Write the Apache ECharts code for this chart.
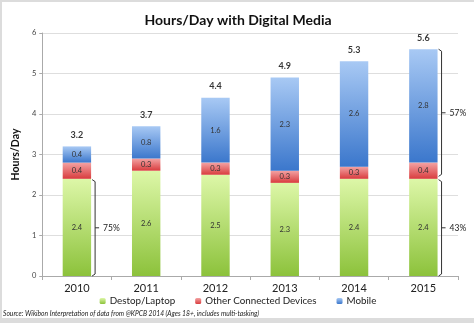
<!DOCTYPE html>
<html><head><meta charset="utf-8">
<script src="https://cdn.jsdelivr.net/npm/echarts@6/dist/echarts.min.js"></script>
<style>
html,body{margin:0;padding:0;background:#dcdcdc;width:474px;height:323px;overflow:hidden;}
#c{position:absolute;left:2px;top:2px;width:472px;height:316px;background:#fff;}
</style></head><body>
<div id="c"></div>
<script>
var years = ['2010','2011','2012','2013','2014','2015'];
var desktop = [2.4, 2.6, 2.5, 2.3, 2.4, 2.4];
var other = [0.4, 0.3, 0.3, 0.3, 0.3, 0.4];
var mobile = [0.4, 0.8, 1.6, 2.3, 2.6, 2.8];
var totals = [3.2, 3.7, 4.4, 4.9, 5.3, 5.6];
var yTicks = [0, 1, 2, 3, 4, 5, 6];
var seriesNames = ['Destop/Laptop', 'Other Connected Devices', 'Mobile'];
// bracket annotations: [category index, low, high, label]
var brackets = [[0, 0, 2.38, '75%'], [5, 2.46, 5.6, '57%'], [5, 0, 2.38, '43%']];

var chart = echarts.init(document.getElementById('c'));
function grad(top, bottom) {
  return new echarts.graphic.LinearGradient(0, 0, 0, 1, [{offset: 0, color: top}, {offset: 1, color: bottom}]);
}
var font = 'Lato, "Open Sans", sans-serif';
var barW = '41%';
var inLabel = {show: true, position: 'inside', fontSize: 7.5, color: '#333', fontFamily: font};
chart.setOption({
  animation: false,
  textStyle: {fontFamily: font},
  title: {text: 'Hours/Day with Digital Media', left: 'center', top: 6,
    textStyle: {fontSize: 14, fontWeight: 'bold', color: '#111', fontFamily: font}},
  grid: {left: 33, right: 16, top: 31, bottom: 42},
  legend: {data: seriesNames, left: 'center', top: 294, padding: 0, itemWidth: 6, itemHeight: 6, itemGap: 20,
    textStyle: {fontSize: 9.8, color: '#222', fontFamily: font, padding: [0, 0, 0, -1]}},
  xAxis: {type: 'category', data: years,
    axisLine: {lineStyle: {color: '#aaa'}},
    axisTick: {show: true, length: 4, lineStyle: {color: '#aaa'}},
    axisLabel: {fontSize: 11, color: '#222', margin: 7}},
  yAxis: {type: 'value', min: 0, max: 6, interval: 1,
    name: 'Hours/Day', nameLocation: 'middle', nameGap: 15,
    nameTextStyle: {fontSize: 10.5, fontWeight: 'bold', color: '#111'},
    axisLine: {show: true, lineStyle: {color: '#aaa'}},
    axisTick: {show: true, length: 3, lineStyle: {color: '#aaa'}},
    axisLabel: {fontSize: 7.5, color: '#444', margin: 6,
      formatter: function (v) { return yTicks.indexOf(v) >= 0 ? String(v) : ''; }},
    splitLine: {lineStyle: {color: '#dedede'}}},
  series: [
    {name: seriesNames[0], type: 'bar', stack: 's', barWidth: barW, data: desktop,
      itemStyle: {color: grad('#ddf7a8', '#8cc23b')}, label: inLabel},
    {name: seriesNames[1], type: 'bar', stack: 's', barWidth: barW, data: other,
      itemStyle: {color: grad('#f3a3a3', '#d93c3e')}, label: inLabel},
    {name: seriesNames[2], type: 'bar', stack: 's', barWidth: barW, data: mobile,
      itemStyle: {color: grad('#a8c9f4', '#3b77cc')}, label: inLabel},
    {name: 'total', type: 'scatter', data: totals, symbolSize: 0, silent: true,
      label: {show: true, position: 'top', distance: 7, fontSize: 9, fontWeight: 'bold', color: '#000'}},
    {name: 'bracket', type: 'custom', data: brackets, silent: true,
      encode: {x: 0, y: [1, 2]},
      renderItem: function (params, api) {
        var idx = api.value(0);
        var top = api.coord([idx, api.value(2)]);
        var bot = api.coord([idx, api.value(1)]);
        var bw = api.size([1, 0])[0] * 0.41;
        var x = top[0] + bw / 2 + 4;
        var ym = (top[1] + bot[1]) / 2;
        var st = {stroke: '#333', lineWidth: 1, fill: 'none'};
        return {type: 'group', children: [
          {type: 'polyline', shape: {points: [[x - 3, top[1]], [x, top[1] + 2], [x, bot[1] - 2], [x - 3, bot[1]]]}, style: st},
          {type: 'line', shape: {x1: x, y1: ym, x2: x + 4, y2: ym}, style: st},
          {type: 'text', x: x + 8, y: ym, style: {text: brackets[params.dataIndex][3], fontSize: 8.5, fill: '#222',
            verticalAlign: 'middle', fontFamily: font}}
        ]};
      }}
  ],
  graphic: [{type: 'text', left: 1, bottom: 1,
    style: {text: 'Source: Wikibon Interpretation of data from @KPCB 2014 (Ages 18+, includes multi-tasking)',
      fontSize: 6.7, fontStyle: 'italic', fill: '#222', fontFamily: font}}]
});
</script></body></html>
